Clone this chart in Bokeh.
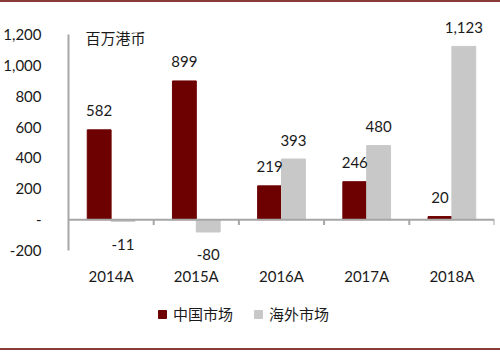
import numpy as np
from bokeh.plotting import figure
from bokeh.models import Range1d, FixedTicker, Span, Legend, LegendItem, Label, NumeralTickFormatter
from bokeh.core.properties import value
from bokeh.embed import file_html
from bokeh.resources import INLINE

categories = ["2014A", "2015A", "2016A", "2017A", "2018A"]
china = [582, 899, 219, 246, 20]
overseas = [-11, -80, 393, 480, 1123]
y_ticks = [-200, 0, 200, 400, 600, 800, 1000, 1200]
series_names = ["中国市场", "海外市场"]
unit_label = "百万港币"

RED = "#6d0000"
GREY = "#c8c8c8"
AXIS = "#a6a6a6"
TXT = "#1a1a1a"
NUMFONT = value("Lato")

n = len(categories)
centers = np.arange(n) + 0.5
bw = 0.28

p = figure(width=500, height=350, output_backend="svg", toolbar_location=None,
           x_range=Range1d(0, n), y_range=Range1d(-861, 1362),
           min_border_left=66, min_border_right=6, min_border_top=7, min_border_bottom=0)
p.styles = {"border-top": "2px solid #8b3a3a", "border-bottom": "2px solid #8b3a3a"}
p.outline_line_color = None
p.grid.visible = False
p.background_fill_color = "white"
p.border_fill_color = "white"
p.xaxis.visible = False

r1 = p.vbar(x=centers - bw / 2, top=china, width=bw, color=RED)
r2 = p.vbar(x=centers + bw / 2, top=overseas, width=bw, color=GREY)

p.add_layout(Span(location=0, dimension="width", line_color=AXIS, line_width=2))
bounds = np.arange(1, n + 1)
p.segment(x0=bounds, y0=[0] * n, x1=bounds, y1=[-35] * n, line_color=AXIS, line_width=2)

def lbl(vals):
    return [f"{v:,}" for v in vals]

def offs(vals):
    return [-19 if v >= 0 else 23 for v in vals]

p.text(x=centers - bw / 2, y=china, text=lbl(china), y_offset=offs(china),
       text_align="center", text_baseline="middle", text_font=NUMFONT,
       text_font_size="15px", text_color=TXT)
p.text(x=centers + bw / 2, y=overseas, text=lbl(overseas), y_offset=offs(overseas),
       text_align="center", text_baseline="middle", text_font=NUMFONT,
       text_font_size="15px", text_color=TXT)

# category labels under the lowest y tick
p.text(x=centers, y=[y_ticks[0]] * n, text=categories, y_offset=25,
       text_align="center", text_baseline="middle", text_font=NUMFONT,
       text_font_size="15px", text_color=TXT)

p.add_layout(Label(x=0.2, y=y_ticks[-1], text=unit_label, text_font="Noto Sans CJK SC",
                   text_font_size="15px", text_color=TXT, text_baseline="middle", y_offset=-3))

ya = p.yaxis[0]
ya.ticker = FixedTicker(ticks=y_ticks)
ya.formatter = NumeralTickFormatter(format="0,0")
ya.major_label_overrides = {0: "-"}
ya.bounds = (y_ticks[0], y_ticks[-1])
ya.axis_line_color = AXIS
ya.axis_line_width = 2
ya.major_tick_line_color = None
ya.minor_tick_line_color = None
ya.major_label_standoff = 21
ya.major_label_text_font = "Lato"
ya.major_label_text_font_size = "15px"
ya.major_label_text_color = TXT

legend = Legend(items=[LegendItem(label=series_names[0], renderers=[r1]),
                       LegendItem(label=series_names[1], renderers=[r2])],
                orientation="horizontal", glyph_width=10, glyph_height=10,
                label_text_font="Noto Sans CJK SC", label_text_font_size="15px",
                label_text_color=TXT, spacing=20, label_standoff=6,
                border_line_color=None, background_fill_alpha=0, location=(89, 28),
                margin=0, padding=8)
p.add_layout(legend, "center")

open("out.html", "w").write(file_html(p, INLINE))
